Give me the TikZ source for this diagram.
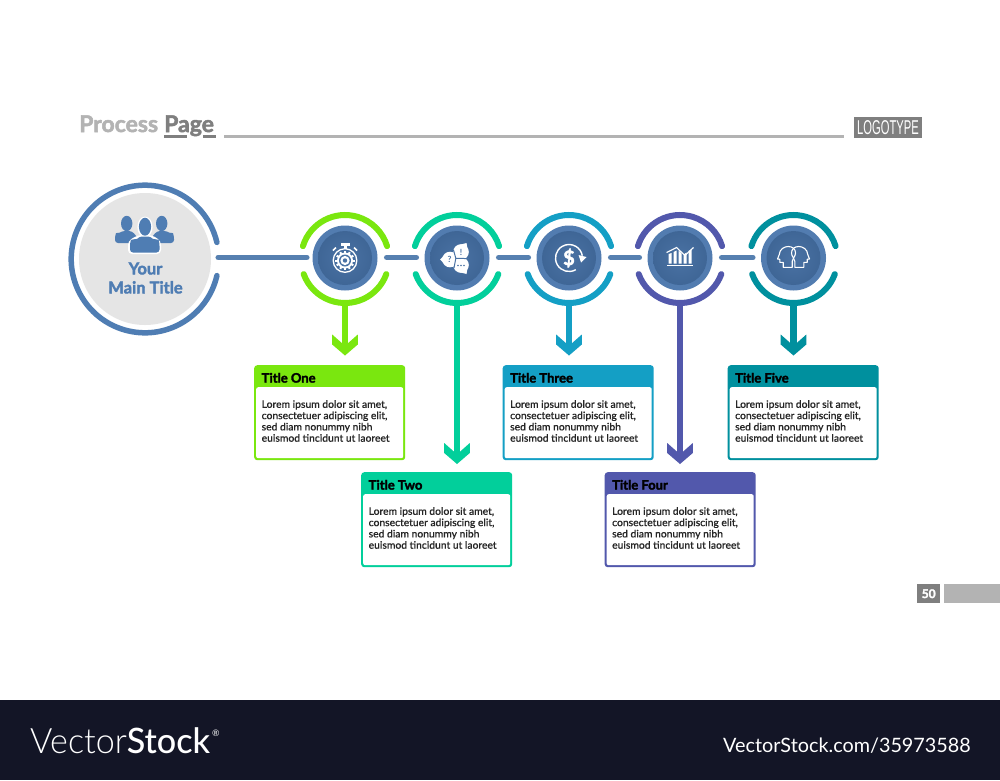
\documentclass[tikz,border=0pt]{standalone}
\usepackage{fontspec}
\usetikzlibrary{calc}
\setmainfont{Lato}
\newfontfamily\blackf[FakeBold=2.2]{Lato Bold}
\newfontfamily\lightf[FakeStretch=0.975]{Lato Light}
\newfontfamily\stockf[FakeStretch=0.975]{Lato Medium}
\newfontfamily\medf[FakeBold=0.4]{Lato Medium}
\newfontfamily\condf[FakeStretch=0.56]{Liberation Sans}
\definecolor{cgreen}{HTML}{7AE70F}
\definecolor{cmint}{HTML}{02CF9B}
\definecolor{cblue}{HTML}{149FC5}
\definecolor{cpurple}{HTML}{5258AC}
\definecolor{cteal}{HTML}{00909E}
\definecolor{cmain}{HTML}{4F7DB3}
\definecolor{cdisc}{HTML}{527CB0}
\definecolor{cdiscin}{HTML}{4A72A4}
\definecolor{cdiscout}{HTML}{3F6696}
\definecolor{cline}{HTML}{5680B0}
\definecolor{cfoot}{HTML}{131526}
\definecolor{glt}{HTML}{B3B3B3}
\definecolor{gdk}{HTML}{7F7F7F}
\tikzset{
 x=1pt,y=-1pt,
 disc/.style={circle,inner sep=0pt,minimum size=65pt,fill=cdisc},
 link/.style={line width=5.5pt,line cap=round,cline},
 ringarc/.style={line width=6pt,line cap=round},
 shaft/.style={line width=6.5pt},
 boxouter/.style={anchor=north west,inner sep=0pt,minimum width=151pt,minimum height=95pt,rounded corners=3pt},
 boxinner/.style={anchor=north west,inner sep=0pt,minimum width=147pt,minimum height=71pt,rounded corners=2pt,fill=white},
 boxtitle/.style={anchor=west,inner sep=0pt,font=\blackf\fontsize{13}{15}\selectfont,text=black},
 boxtext/.style={anchor=north west,inner sep=0pt,align=left,font=\medf\fontsize{10.3}{11.3}\selectfont,text=black!85},
 icon/.style={white,line width=1.2pt},
}
\newcommand\stage[3]{% id, x, colour
 \node[disc] (d#1) at (#2,258) {};
 \shade[inner color=cdiscin,outer color=cdiscout] (d#1.center) circle (27);
 \draw[ringarc,#3] ($(d#1.center)+(0,1)+(197:44)$) arc (197:343:44);
 \draw[ringarc,#3] ($(d#1.center)+(0,1)+(20:44)$) arc (20:160:44);
}
\newcommand\chevron[2]{% tip coordinate, colour
 \fill[#2] ($(#1)+(-12.8,-21)$) -- ($(#1)+(-3.2,-12.5)$) -- ($(#1)+(3.2,-12.5)$) -- ($(#1)+(12.8,-21)$) -- ($(#1)+(12.8,-11)$) -- (#1) -- ($(#1)+(-12.8,-11)$) -- cycle;
}
\newcommand\infobox[5]{% id,x,y,colour,title
 \node[boxouter,fill=#4] (b#1) at (#2,#3) {};
 \node[boxinner] (w#1) at ($(b#1.north west)+(2,22)$) {};
 \node[boxtitle] (h#1) at ($(b#1.north west)+(7.5,12.8)$) {#5};
 \node[boxtext] (t#1) at ($(b#1.north west)+(7.5,35)$) {Lorem ipsum dolor sit amet,\\consectetuer adipiscing elit,\\sed diam nonummy nibh\\euismod tincidunt ut laoreet};
}
\begin{document}
\begin{tikzpicture}
\useasboundingbox (0,0) rectangle (1000,780);
\fill[white] (0,0) rectangle (1000,780);
% footer
\fill[cfoot] (0,700) rectangle (1000,780);
\node[anchor=base west,inner sep=0pt,text=white,font=\fontsize{35}{40}\selectfont] (fl) at (30,753) {{\lightf Vector}{\stockf Stock}};
\node[anchor=base west,inner sep=0pt,text=white,font=\fontsize{9}{10}\selectfont] (fr) at (212,736) {®};
\node[anchor=base east,inner sep=0pt,text=white,font=\fontsize{19.8}{24}\selectfont] (fu) at (971,752.7) {VectorStock.com/35973588};
% header
\node[anchor=base west,inner sep=0pt,text=glt,font=\blackf\fontsize{23}{24}\selectfont] (pp) at (79,132) {Process};
\node[anchor=base west,inner sep=0pt,text=gdk,font=\blackf\fontsize{23}{24}\selectfont] (pq) at (164,132) {Page};
\draw[gdk,line width=3pt] (164,136.5) -- (187,136.5) (203,136.5) -- (215.5,136.5);
\draw[glt,line width=3pt] (224,136.5) -- (844,136.5);
\node[anchor=north west,inner sep=0pt,minimum width=68.5pt,minimum height=21pt,fill=gdk,text=white,font=\condf\fontsize{20}{20}\selectfont] (logo) at (853.5,117) {LOGOTYPE};
\node[anchor=north west,inner sep=0pt,minimum width=23pt,minimum height=19pt,fill=gdk,text=white,font=\blackf\fontsize{12}{13}\selectfont] (pg) at (917,584) {50};
\fill[glt] (944,584) rectangle (1000,603);
% main circle
\node[circle,inner sep=0pt,minimum size=132pt,fill=black!10] (main) at (145,259) {};
\draw[ringarc,line width=5.5pt,cmain] ($(main.center)+(13:73.8)$) arc (13:347:73.8);
% people icon
\fill[cmain] (126.7,223.5) ellipse (5.7 and 7.7);
\fill[cmain] (161.7,223.5) ellipse (5.7 and 7.7);
\fill[cmain,rounded corners=3pt] (115,243) -- (115,236) .. controls (116,233) and (120,232.5) .. (122,231) -- (132,231) -- (142,243) -- cycle;
\fill[cmain,rounded corners=3pt] (174,243) -- (174,236) .. controls (173,233) and (169,232.5) .. (167,231) -- (157,231) -- (147,243) -- cycle;
\fill[white] (145,227) ellipse (7.6 and 10.4);
\fill[white,rounded corners=4pt] (128,254) -- (128,241) -- (138,235) -- (152,235) -- (161,241) -- (161,254) -- cycle;
\fill[cmain] (145,226.7) ellipse (6.1 and 9);
\fill[cmain,rounded corners=3pt] (130,252.5) -- (130,243) .. controls (131,239.5) and (137,239) .. (139,236.5) -- (151,236.5) .. controls (153,239) and (158.5,239.5) .. (159.5,243) -- (159.5,252.5) -- cycle;
\node[inner sep=0pt,text=cmain,align=center,font=\blackf\fontsize{16.5}{19}\selectfont] (mt) at (145.5,278) {Your\\Main Title};
% stages
\stage{1}{345}{cgreen}
\stage{2}{457}{cmint}
\stage{3}{569}{cblue}
\stage{4}{680}{cpurple}
\stage{5}{793.5}{cteal}
% links
\draw[link] ($(main.east)+(7,-1.5)$) -- ($(d1.west)+(-5.5,-0.5)$);
\draw[link] ($(d1.east)+(9,-0.5)$) -- ($(d2.west)+(-8,-0.5)$);
\draw[link] ($(d2.east)+(9,-0.5)$) -- ($(d3.west)+(-8,-0.5)$);
\draw[link] ($(d3.east)+(9,-0.5)$) -- ($(d4.west)+(-8,-0.5)$);
\draw[link] ($(d4.east)+(9,-0.5)$) -- ($(d5.west)+(-8,-0.5)$);
% boxes
\infobox{1}{254}{365}{cgreen}{Title One}
\infobox{2}{361}{472}{cmint}{Title Two}
\infobox{3}{502.5}{365}{cblue}{Title Three}
\infobox{4}{604.5}{472}{cpurple}{Title Four}
\infobox{5}{727.5}{365}{cteal}{Title Five}
% arrows
\coordinate (a1) at (345,355.5);
\coordinate (a2) at (457,464);
\coordinate (a3) at (569,355.5);
\coordinate (a4) at (680,464);
\coordinate (a5) at (793.5,355.5);
\draw[shaft,cgreen] ($(d1.south)+(0,13)$) -- ($(a1)+(0,-10)$); \chevron{a1}{cgreen}
\draw[shaft,cmint] ($(d2.south)+(0,13)$) -- ($(a2)+(0,-10)$); \chevron{a2}{cmint}
\draw[shaft,cblue] ($(d3.south)+(0,13)$) -- ($(a3)+(0,-10)$); \chevron{a3}{cblue}
\draw[shaft,cpurple] ($(d4.south)+(0,13)$) -- ($(a4)+(0,-10)$); \chevron{a4}{cpurple}
\draw[shaft,cteal] ($(d5.south)+(0,13)$) -- ($(a5)+(0,-10)$); \chevron{a5}{cteal}
% icon 1 stopwatch
\begin{scope}[shift={(345,260.5)}]
\draw[icon,line width=1.3pt] (0,0) circle (11.8);
\fill[white] (0,0) circle (8);
\foreach \a in {0,30,...,330} \draw[white,line width=2pt] (\a:7) -- (\a:9.6);
\fill[cdiscin] (0,0) circle (6);
\fill[white] (0,0) circle (4.6);
\fill[cdiscin] (0,0) circle (2.2);
\fill[white] (-4.5,-17.5) rectangle (4.5,-15);
\fill[white] (-1.5,-15) rectangle (1.5,-11.5);
\draw[white,line width=1.5pt] (-9,-13) -- (-12,-10) (9,-13) -- (12,-10);
\end{scope}
% icon 2 bubbles
\begin{scope}[shift={(457,258)}]
\fill[white] (4,-6) circle (7.8);
\fill[white] (2,-13) -- (9.5,-15) -- (11,-6) -- cycle;
\fill[white] (-7,1.5) circle (7.8);
\fill[white] (-10,-5) -- (-17,1.5) -- (-10,8) -- cycle;
\fill[white] (4,7) circle (7.8);
\fill[white] (2,14) -- (9.5,16) -- (11,7) -- cycle;
\draw[cdiscin,line width=1pt] (-1.2,0.3) -- (-3.5,-8) (-1.2,0.3) -- (12,0.6) (-1.2,0.3) -- (-3,10);
\node[inner sep=0pt,text=cdiscin,font=\bfseries\fontsize{8.5}{9}\selectfont] (q2) at (-7.5,1.5) {?};
\node[inner sep=0pt,text=cdiscin,font=\bfseries\fontsize{8.5}{9}\selectfont] (e2) at (4,-6) {!};
\fill[cdiscin] (1,7.5) circle (0.9) (4,7.5) circle (0.9) (7,7.5) circle (0.9);
\end{scope}
% icon 3 dollar
\begin{scope}[shift={(569,258)}]
\draw[icon,line width=1.4pt] (60:13.5) arc (60:350:13.5);
\fill[white] (9.5,-3) -- (17.5,-1) -- (12,4.5) -- cycle;
\node[inner sep=0pt,text=white,font=\blackf\fontsize{20}{20}\selectfont] (dl) at (0,0) {\$};
\end{scope}
% icon 4 chart
\begin{scope}[shift={(680,257)}]
\fill[white] (-12.7,7.5) rectangle (13,8.8);
\fill[white] (-11.5,6.7) -- (-11.5,-3) -- (-8.5,-4) -- (-8.5,6.7) -- cycle;
\fill[white] (-6.5,6.7) -- (-6.5,-5) -- (-3.5,-6.5) -- (-3.5,6.7) -- cycle;
\fill[white] (-1.5,6.7) -- (-1.5,-6.5) -- (1.5,-3.5) -- (1.5,6.7) -- cycle;
\fill[white] (3.5,6.7) -- (3.5,-2.5) -- (6.5,-4.5) -- (6.5,6.7) -- cycle;
\fill[white] (8.5,6.7) -- (8.5,-6) -- (11.5,-8) -- (11.5,6.7) -- cycle;
\draw[white,line width=1.1pt] (-13.5,-4.5) -- (-3.5,-9.5) -- (5,-1.5) -- (13.5,-9.5);
\end{scope}
% icon 5 heads
\begin{scope}[shift={(793.5,258)}]
\draw[icon,line width=1.1pt,line join=round] (-1.3,9.3) -- (-10.3,9.3) -- (-10.3,4.3) -- (-13.7,4.3) -- (-13.7,1.3) -- (-16,1) -- (-14.3,-3.3) .. controls (-14,-9) and (-9,-11.5) .. (-5.3,-11.5) .. controls (-1,-11.5) and (2,-9) .. (2,-5) .. controls (2,-1) and (-1.3,0) .. (-1.3,3.3) -- cycle;
\draw[icon,line width=1.1pt,line join=round] (1.3,9.3) -- (10.3,9.3) -- (10.3,4.3) -- (13.7,4.3) -- (13.7,1.3) -- (16,1) -- (14.3,-3.3) .. controls (14,-9) and (9,-11.5) .. (5.3,-11.5) .. controls (1,-11.5) and (-2,-9) .. (-2,-5) .. controls (-2,-1) and (1.3,0) .. (1.3,3.3) -- cycle;
\end{scope}
\end{tikzpicture}
\end{document}
